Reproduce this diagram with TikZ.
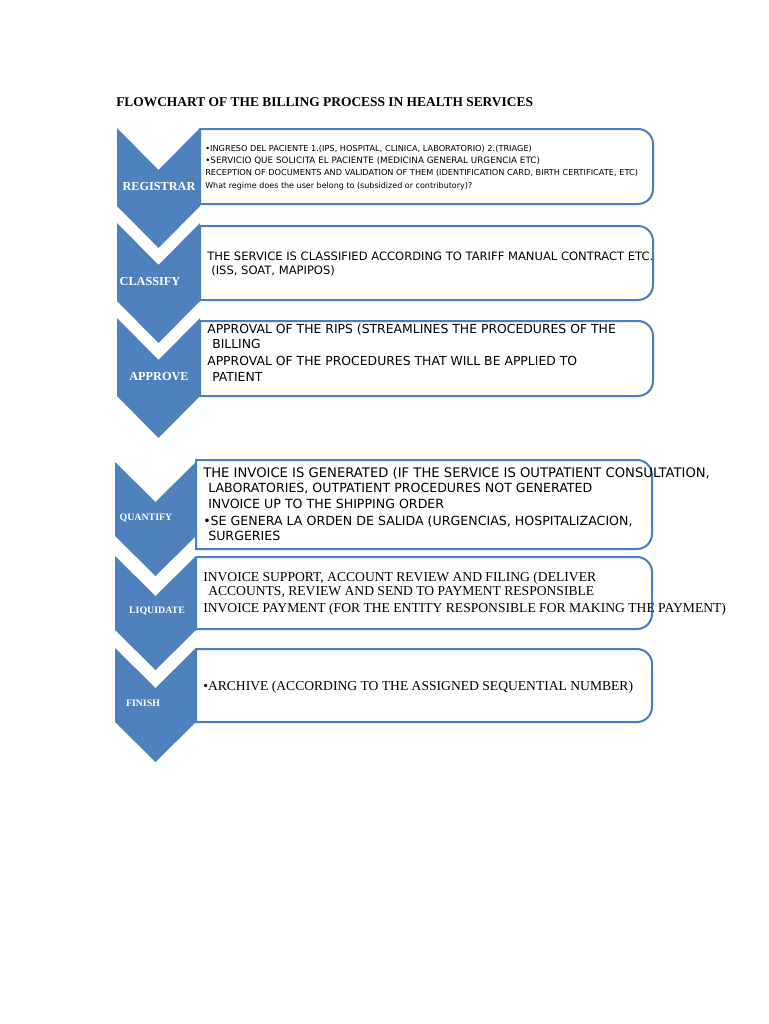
\documentclass[tikz,border=0pt]{standalone}
\usepackage{fontspec}
\setmainfont{Liberation Serif}
\newfontfamily\handfont{DejaVu Sans}
\definecolor{chevblue}{HTML}{4F81BD}
\definecolor{boxblue}{HTML}{4A7EC0}
\tikzset{
  chevron/.style={fill=chevblue},
  listbox/.style={draw=boxblue, line width=1.5pt, fill=white},
  steplabel/.style={text=white, inner sep=0pt, font=\bfseries\fontsize{9.2}{11}\selectfont},
  smalllabel/.style={text=white, inner sep=0pt, font=\bfseries\fontsize{7.4}{9}\selectfont},
  textline/.style={anchor=base west, inner sep=0pt},
}
\begin{document}
\begin{tikzpicture}[x=0.75pt, y=0.75pt]
\useasboundingbox[fill=white] (0,0) rectangle (768,-1024);
% title
\node[textline, font=\bfseries\fontsize{10.07}{12}\selectfont] (title) at (116,-107) {FLOWCHART OF THE BILLING PROCESS IN HEALTH SERVICES};
% upper list: boxes
\draw[listbox] (200,-129) -- (638,-129) arc[start angle=90, end angle=0, radius=15] -- (653,-189) arc[start angle=0, end angle=-90, radius=15] -- (200,-204) -- cycle;
\draw[listbox] (200,-226) -- (638,-226) arc[start angle=90, end angle=0, radius=15] -- (653,-285) arc[start angle=0, end angle=-90, radius=15] -- (200,-300) -- cycle;
\draw[listbox] (200,-321) -- (638,-321) arc[start angle=90, end angle=0, radius=15] -- (653,-381) arc[start angle=0, end angle=-90, radius=15] -- (200,-396) -- cycle;
% upper list: chevrons
\fill[chevron] (117,-128) -- (158.5,-170) -- (200,-128) -- (200,-206) -- (158.5,-248) -- (117,-206) -- cycle;
\fill[chevron] (117,-223) -- (158.5,-265) -- (200,-223) -- (200,-301) -- (158.5,-343) -- (117,-301) -- cycle;
\fill[chevron] (117,-318) -- (158.5,-360) -- (200,-318) -- (200,-396) -- (158.5,-438) -- (117,-396) -- cycle;
\node[steplabel] (registrar) at (159,-186) {REGISTRAR};
\node[steplabel] (classify) at (150,-281) {CLASSIFY};
\node[steplabel] (approve) at (159,-377) {APPROVE};
% lower list: boxes
\draw[listbox] (196,-460) -- (637,-460) arc[start angle=90, end angle=0, radius=15] -- (652,-534) arc[start angle=0, end angle=-90, radius=15] -- (196,-549) -- cycle;
\draw[listbox] (196,-557) -- (637,-557) arc[start angle=90, end angle=0, radius=15] -- (652,-614) arc[start angle=0, end angle=-90, radius=15] -- (196,-629) -- cycle;
\draw[listbox] (196,-649) -- (637,-649) arc[start angle=90, end angle=0, radius=15] -- (652,-707) arc[start angle=0, end angle=-90, radius=15] -- (196,-722) -- cycle;
% lower list: chevrons
\fill[chevron] (115,-462) -- (155.5,-502) -- (196,-462) -- (196,-536) -- (155.5,-576) -- (115,-536) -- cycle;
\fill[chevron] (115,-556) -- (155.5,-596) -- (196,-556) -- (196,-630) -- (155.5,-670) -- (115,-630) -- cycle;
\fill[chevron] (115,-648) -- (155.5,-688) -- (196,-648) -- (196,-722) -- (155.5,-762) -- (115,-722) -- cycle;
\node[smalllabel] (quantify) at (146,-518) {QUANTIFY};
\node[smalllabel] (liquidate) at (157,-611) {LIQUIDATE};
\node[smalllabel] (finish) at (143,-703) {FINISH};
% texts of the boxes
\node[textline, font=\handfont\fontsize{6.16}{7}\selectfont] (reg1) at (205,-151) {•INGRESO DEL PACIENTE 1.(IPS, HOSPITAL, CLINICA, LABORATORIO) 2.(TRIAGE)};
\node[textline, font=\handfont\fontsize{6.6}{7}\selectfont] (reg2) at (205,-163) {•SERVICIO QUE SOLICITA EL PACIENTE (MEDICINA GENERAL URGENCIA ETC)};
\node[textline, font=\handfont\fontsize{6.15}{7}\selectfont] (reg3) at (205,-175) {RECEPTION OF DOCUMENTS AND VALIDATION OF THEM (IDENTIFICATION CARD, BIRTH CERTIFICATE, ETC)};
\node[textline, font=\handfont\fontsize{6.0}{7}\selectfont] (reg4) at (205,-188) {What regime does the user belong to (subsidized or contributory)?};
\node[textline, font=\handfont\fontsize{8.66}{10}\selectfont] (cls1) at (207,-260) {THE SERVICE IS CLASSIFIED ACCORDING TO TARIFF MANUAL CONTRACT ETC.};
\node[textline, font=\handfont\fontsize{8.66}{10}\selectfont] (cls2) at (211,-274) {(ISS, SOAT, MAPIPOS)};
\node[textline, font=\handfont\fontsize{9.3}{11}\selectfont] (app1) at (207,-333) {APPROVAL OF THE RIPS (STREAMLINES THE PROCEDURES OF THE};
\node[textline, font=\handfont\fontsize{9.3}{11}\selectfont] (app2) at (212,-348) {BILLING};
\node[textline, font=\handfont\fontsize{9.3}{11}\selectfont] (app3) at (207,-365) {APPROVAL OF THE PROCEDURES THAT WILL BE APPLIED TO};
\node[textline, font=\handfont\fontsize{9.3}{11}\selectfont] (app4) at (212,-381) {PATIENT};
\node[textline, font=\handfont\fontsize{9.88}{11}\selectfont] (qty1) at (203,-477) {THE INVOICE IS GENERATED (IF THE SERVICE IS OUTPATIENT CONSULTATION,};
\node[textline, font=\handfont\fontsize{9.45}{11}\selectfont] (qty2) at (208,-492) {LABORATORIES, OUTPATIENT PROCEDURES NOT GENERATED};
\node[textline, font=\handfont\fontsize{9.45}{11}\selectfont] (qty3) at (208,-508) {INVOICE UP TO THE SHIPPING ORDER};
\node[textline, font=\handfont\fontsize{9.45}{11}\selectfont] (qty4) at (203,-525) {•SE GENERA LA ORDEN DE SALIDA (URGENCIAS, HOSPITALIZACION,};
\node[textline, font=\handfont\fontsize{9.45}{11}\selectfont] (qty5) at (208,-540) {SURGERIES};
\node[textline, font=\fontsize{10.2}{12}\selectfont] (liq1) at (203,-581) {INVOICE SUPPORT, ACCOUNT REVIEW AND FILING (DELIVER};
\node[textline, font=\fontsize{10.2}{12}\selectfont] (liq2) at (208,-595) {ACCOUNTS, REVIEW AND SEND TO PAYMENT RESPONSIBLE};
\node[textline, font=\fontsize{10.2}{12}\selectfont] (liq3) at (203,-612) {INVOICE PAYMENT (FOR THE ENTITY RESPONSIBLE FOR MAKING THE PAYMENT)};
\node[textline, font=\fontsize{10.2}{12}\selectfont] (fin1) at (203,-690) {•ARCHIVE (ACCORDING TO THE ASSIGNED SEQUENTIAL NUMBER)};
\end{tikzpicture}
\end{document}
